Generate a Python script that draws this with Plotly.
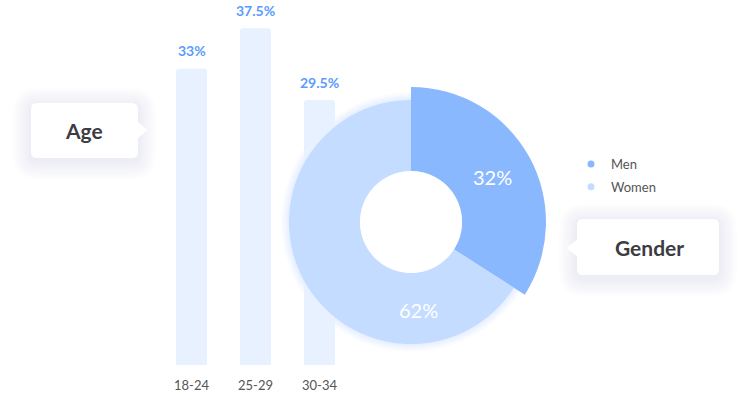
import plotly.graph_objects as go

# ---------------- data ----------------
age_groups = ["18-24", "25-29", "30-34"]
age_share = [33, 37.5, 29.5]
gender_labels = ["Men", "Women"]
gender_share = [32, 62]

# ---------------- style ----------------
W, H = 750, 394
FONT = "Lato"
BAR_COLOR = "#E8F1FF"
LABEL_BLUE = "#5B9BFF"
MEN_COLOR = "#8AB8FF"
WOMEN_COLOR = "#C4DCFF"
TEXT_GRAY = "#555555"
DARK = "#3C3C42"


def px(x):
    return x / W


def py(y):
    return 1 - y / H


def fmt(v):
    return f"{v:g}%"


fig = go.Figure()

# bars
fig.add_trace(go.Bar(
    x=age_groups, y=age_share, marker=dict(color=BAR_COLOR, line=dict(width=0), cornerradius=3),
    hoverinfo="x+y", showlegend=False,
))

for g, v in zip(age_groups, age_share):
    fig.add_annotation(x=g, y=v, xref="x", yref="y", text=fmt(v), showarrow=False,
                       yshift=18, font=dict(family=FONT, size=14, color=LABEL_BLUE, weight="bold"))

# donut geometry (pixels)
cx, cy = 411, 222
r_men, r_women, r_hole = 135, 122, 51


def dom(r):
    return dict(x=[px(cx - r), px(cx + r)], y=[py(cy + r), py(cy - r)])


# glow rings under the donut
shapes = []
for k in range(8, 0, -1):
    rr = r_women + k
    shapes.append(dict(type="circle", xref="paper", yref="paper", layer="below",
                       x0=px(cx - rr), x1=px(cx + rr), y0=py(cy + rr), y1=py(cy - rr),
                       fillcolor="rgba(150,195,255,0.028)", line=dict(width=0)))
for k in range(5, 0, -1):
    rr = r_men + k
    shapes.append(dict(type="circle", xref="paper", yref="paper", layer="below",
                       x0=px(cx - rr), x1=px(cx + rr), y0=py(cy + rr), y1=py(cy - rr),
                       fillcolor="rgba(150,195,255,0.0)", line=dict(width=0)))

# Men (outer, larger radius)
fig.add_trace(go.Pie(
    labels=gender_labels, values=gender_share, sort=False, direction="clockwise", rotation=0,
    hole=r_hole / r_men, domain=dom(r_men),
    marker=dict(colors=[MEN_COLOR, "rgba(0,0,0,0)"], line=dict(width=0)),
    text=[fmt(gender_share[0]), ""], textinfo="text", textposition="inside",
    insidetextorientation="horizontal",
    textfont=dict(family=FONT, size=20, color="white"),
    showlegend=False, hoverinfo="label+text",
))
# Women
fig.add_trace(go.Pie(
    labels=gender_labels, values=gender_share, sort=False, direction="clockwise", rotation=0,
    hole=r_hole / r_women, domain=dom(r_women),
    marker=dict(colors=["rgba(0,0,0,0)", WOMEN_COLOR], line=dict(width=0)),
    textinfo="none", showlegend=False, hoverinfo="label",
))

# white hole cover (hide glow)
shapes.append(dict(type="circle", xref="paper", yref="paper", layer="above",
                   x0=px(cx - r_hole), x1=px(cx + r_hole), y0=py(cy + r_hole), y1=py(cy - r_hole),
                   fillcolor="white", line=dict(width=0)))

fig.add_annotation(x=px(418), y=py(310), xref="paper", yref="paper", text=fmt(gender_share[1]),
                   xanchor="center", yanchor="middle",
                   showarrow=False, font=dict(family=FONT, size=20, color="white"))

# legend entries
for lab, col in zip(gender_labels, [MEN_COLOR, WOMEN_COLOR]):
    fig.add_trace(go.Scatter(x=[None], y=[None], mode="markers", name=lab, legendgroup=lab,
                             marker=dict(color=col, size=7, symbol="circle")))


# callout boxes
def rrect(x0, y0, x1, y1, r):
    return (f"M{px(x0 + r)},{py(y0)} L{px(x1 - r)},{py(y0)} Q{px(x1)},{py(y0)} {px(x1)},{py(y0 + r)} "
            f"L{px(x1)},{py(y1 - r)} Q{px(x1)},{py(y1)} {px(x1 - r)},{py(y1)} "
            f"L{px(x0 + r)},{py(y1)} Q{px(x0)},{py(y1)} {px(x0)},{py(y1 - r)} "
            f"L{px(x0)},{py(y0 + r)} Q{px(x0)},{py(y0)} {px(x0 + r)},{py(y0)} Z")


def pointer(xb, yc, tip):
    d = tip - xb
    return (f"M{px(xb)},{py(yc - 9)} Q{px(xb + d * 0.3)},{py(yc - 6)} {px(xb + d * 0.8)},{py(yc - 1.5)} "
            f"Q{px(tip)},{py(yc)} {px(xb + d * 0.8)},{py(yc + 1.5)} "
            f"Q{px(xb + d * 0.3)},{py(yc + 6)} {px(xb)},{py(yc + 9)} Z")


boxes = [
    dict(x0=31, y0=103, x1=138, y1=158, tip=148, yc=130, text="Age", tx=84, ty=130),
    dict(x0=577, y0=219, x1=719, y1=275, tip=566, yc=248, text="Gender", tx=649, ty=247),
]
for b in boxes:
    for k in range(9, 0, -1):
        e = k * 2
        shapes.append(dict(type="path", xref="paper", yref="paper", layer="below",
                           path=rrect(b["x0"] - e, b["y0"] - e + 3, b["x1"] + e, b["y1"] + e + 3, 6 + e),
                           fillcolor="rgba(50,50,70,0.008)", line=dict(width=0)))
    shapes.append(dict(type="path", xref="paper", yref="paper", layer="below",
                       path=rrect(b["x0"], b["y0"], b["x1"], b["y1"], 6),
                       fillcolor="white", line=dict(width=0)))
    xb = b["x1"] - 1 if b["tip"] > b["x1"] else b["x0"] + 1
    shapes.append(dict(type="path", xref="paper", yref="paper", layer="below",
                       path=pointer(xb, b["yc"], b["tip"]),
                       fillcolor="white", line=dict(width=0)))
    fig.add_annotation(x=px(b["tx"]), y=py(b["ty"]), xref="paper", yref="paper", text=b["text"],
                       xanchor="center", yanchor="middle",
                       showarrow=False, font=dict(family=FONT, size=21, color=DARK, weight="bold"))

fig.update_layout(
    width=W, height=H, margin=dict(l=0, r=0, t=0, b=0),
    paper_bgcolor="white", plot_bgcolor="rgba(0,0,0,0)",
    bargap=1 - 31 / 64, shapes=shapes,
    font=dict(family=FONT, color=TEXT_GRAY),
    xaxis=dict(domain=[px(159.5), px(351.5)], showgrid=False, zeroline=False, showline=False,
               ticks="", tickfont=dict(family=FONT, size=13, color=TEXT_GRAY), ticklabelstandoff=11,
               fixedrange=True),
    yaxis=dict(domain=[29 / H, 1], range=[0, 365 / 8.98], showgrid=False, zeroline=False,
               showticklabels=False, fixedrange=True),
    legend=dict(x=px(571), y=py(149), xanchor="left", yanchor="top", tracegroupgap=3,
                font=dict(family=FONT, size=13, color=TEXT_GRAY), bgcolor="rgba(0,0,0,0)"),
    showlegend=True,
)

fig.write_html("out.html", config={"displayModeBar": False},
               post_script="document.body.style.margin='0';document.body.style.overflow='hidden';")
